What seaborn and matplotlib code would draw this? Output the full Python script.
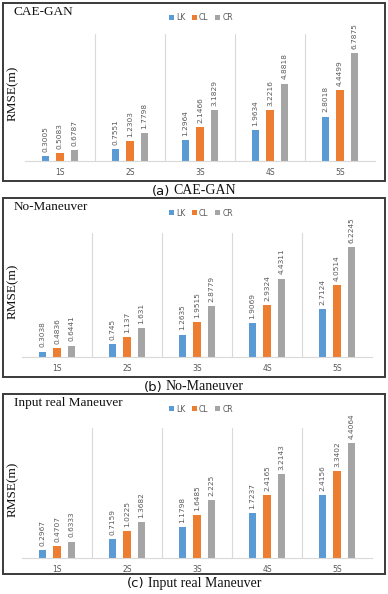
import matplotlib
matplotlib.use("Agg")
import matplotlib.pyplot as plt
import seaborn as sns
import pandas as pd
from matplotlib.patches import Rectangle
from matplotlib.offsetbox import TextArea, HPacker, AnchoredOffsetbox

# ---------------- data ----------------
categories = ["1S", "2S", "3S", "4S", "5S"]
models = ["LK", "CL", "CR"]

cae_lk = [0.3005, 0.7551, 1.2964, 1.9634, 2.8018]
cae_cl = [0.5083, 1.2303, 2.1466, 3.2216, 4.4499]
cae_cr = [0.6787, 1.7798, 3.1829, 4.8818, 6.7875]

nom_lk = [0.3038, 0.745, 1.2635, 1.9069, 2.7124]
nom_cl = [0.4836, 1.137, 1.9515, 2.9324, 4.0514]
nom_cr = [0.6441, 1.631, 2.8779, 4.4311, 6.2245]

irm_lk = [0.2967, 0.7159, 1.1798, 1.7237, 2.4156]
irm_cl = [0.4707, 1.0225, 1.6485, 2.4165, 3.3402]
irm_cr = [0.6333, 1.3682, 2.225, 3.2143, 4.4064]

panel_titles = ["CAE-GAN", "No-Maneuver", "Input real Maneuver"]
panel_letters = ["(a)", "(b)", "(c)"]
panel_ymax = [8, 7, 5]

colors = ["#5B9BD5", "#ED7D31", "#A5A5A5"]

# ---------------- figure ----------------
sns.set_theme(style="white")
plt.rcParams['font.family'] = ['DejaVu Sans']
W, H = 388, 594
fig = plt.figure(figsize=(W / 100, H / 100), dpi=100)

def fx(px):
    return px / W

def fy(py):
    return 1 - py / H

# panel layout in pixels: (box_top, box_bottom, ax_left, ax_top, baseline, caption_y)
layouts = [
    (3, 181, 25, 34, 161, 191),
    (198, 377, 22, 233, 357, 387),
    (394, 574, 22, 428, 558, 583),
]

datasets = [
    (cae_lk, cae_cl, cae_cr),
    (nom_lk, nom_cl, nom_cr),
    (irm_lk, irm_cl, irm_cr),
]

serif = ['Liberation Serif', 'DejaVu Serif']
gray_txt = "#595959"
bar_w = 0.105

for i, (lay, data) in enumerate(zip(layouts, datasets)):
    box_top, box_bot, ax_left, ax_top, base, cap_y = lay
    # frame box
    fig.patches.append(Rectangle((fx(3), fy(box_bot)), fx(382), (box_bot - box_top) / H,
                                 transform=fig.transFigure, fill=False,
                                 edgecolor="#3a3a3a", linewidth=1.4, zorder=0))
    ax = fig.add_axes([fx(ax_left), fy(base), fx(350), (base - ax_top) / H])
    df = pd.DataFrame({
        "Time": categories * 3,
        "Model": [m for m in models for _ in categories],
        "RMSE": list(data[0]) + list(data[1]) + list(data[2]),
    })
    sns.barplot(data=df, x="Time", y="RMSE", hue="Model", palette=colors,
                width=0.62, ax=ax, legend=True, saturation=1, linewidth=0)
    # narrow the bars around their centres (Excel style)
    for cont in ax.containers:
        for p in cont.patches:
            c = p.get_x() + p.get_width() / 2
            p.set_width(bar_w)
            p.set_x(c - bar_w / 2)
            p.set_linewidth(0)
    ax.set_xlim(-0.5, 4.5)
    ax.set_ylim(0, panel_ymax[i])
    for cont, vals in zip(ax.containers, data):
        ax.bar_label(cont, labels=[f"{v:g}" for v in vals], rotation=90,
                     padding=3, fontsize=5.3, color=gray_txt)
    for b in [0.5, 1.5, 2.5, 3.5]:
        ax.axvline(b, color="#D9D9D9", linewidth=0.8, zorder=0)
    for s in ["top", "right", "left"]:
        ax.spines[s].set_visible(False)
    ax.spines["bottom"].set_color("#D9D9D9")
    ax.spines["bottom"].set_linewidth(0.8)
    ax.set_yticks([])
    ax.set_xlabel("")
    ax.set_ylabel("")
    ax.tick_params(axis="x", length=0, pad=5, labelsize=5.5, labelcolor=gray_txt)

    handles, labels = ax.get_legend_handles_labels()
    for h in handles:
        h.set_linewidth(0)
    ax.legend(handles, labels, loc="center", bbox_to_anchor=(fx(201), fy(box_top + 15)),
              bbox_transform=fig.transFigure, ncol=3, frameon=False, fontsize=5.5,
              handlelength=0.6, handleheight=0.6, handletextpad=0.3,
              columnspacing=0.9, labelcolor=gray_txt)

    # title
    fig.text(fx(14), fy(box_top + 9), panel_titles[i], family=serif, fontsize=9.5,
             ha="left", va="center", color="#111111")
    # y label
    fig.text(fx(13), fy((ax_top + base) / 2 - 4), "RMSE(m)", family=serif, fontsize=9.5,
             rotation=90, ha="center", va="center", color="#111111")
    # caption
    t1 = TextArea(panel_letters[i], textprops=dict(family=['DejaVu Sans'], fontsize=9.5, color="#111111"))
    t2 = TextArea(panel_titles[i], textprops=dict(family=serif, fontsize=10, color="#111111"))
    pack = HPacker(children=[t1, t2], align="baseline", pad=0, sep=2)
    ab = AnchoredOffsetbox(loc="center", child=pack, pad=0, frameon=False,
                           bbox_to_anchor=(fx(194), fy(cap_y)),
                           bbox_transform=fig.transFigure, borderpad=0)
    fig.add_artist(ab)

fig.savefig("out.png", dpi=100)
